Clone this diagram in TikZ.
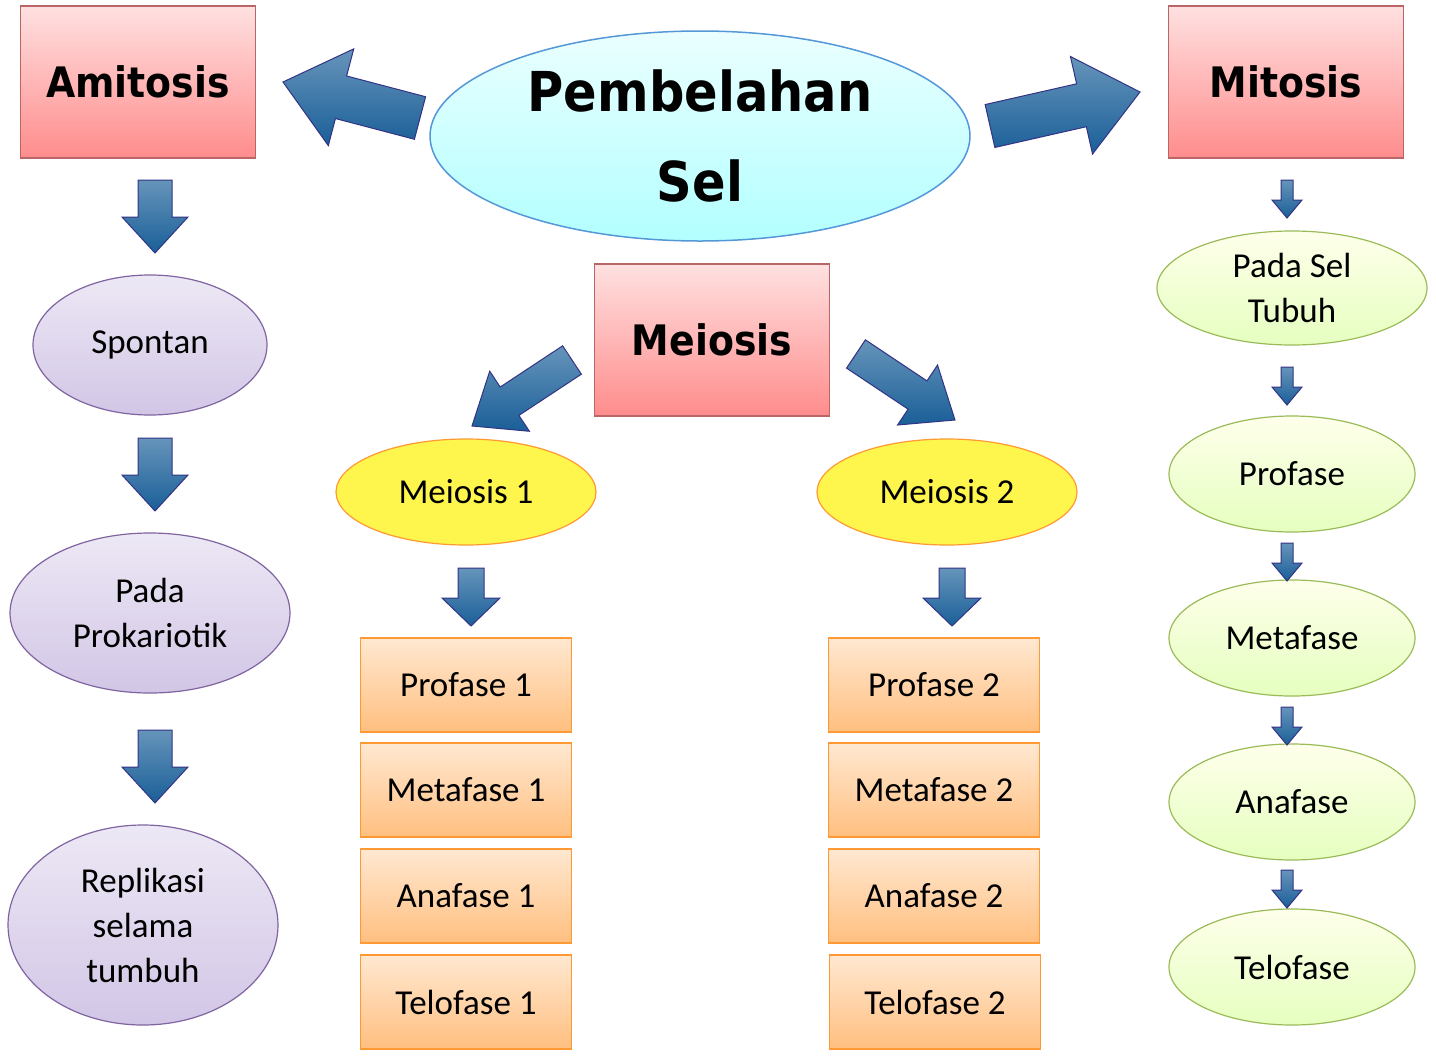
\documentclass[tikz,border=0pt]{standalone}
\usepackage{fontspec}
\setmainfont{Carlito}
\newfontfamily\headfont{DejaVu Sans Condensed}
\usetikzlibrary{calc,shapes.geometric}
\definecolor{lav}{HTML}{8064A2}
\definecolor{lavlt}{HTML}{EDE8F5}
\definecolor{lavdk}{HTML}{D2C6E6}
\definecolor{grb}{HTML}{9BBB59}
\tikzset{
 x=1pt,y=-1pt,
 pinkbox/.style={draw=red!55!black!60,line width=1.2pt,top color=red!12,bottom color=red!45!white,minimum width=235pt,minimum height=152pt,font=\headfont\bfseries\fontsize{42}{46}\selectfont},
 cyanell/.style={ellipse,draw=cyan!60!blue!70,line width=1.5pt,top color=cyan!8,bottom color=cyan!30,minimum width=540pt,minimum height=210pt,align=center,font=\headfont\bfseries\fontsize{55}{90}\selectfont},
 purpell/.style={ellipse,draw=lav,line width=1.2pt,top color=lavlt,bottom color=lavdk,align=center,font=\fontsize{35}{45}\selectfont},
 yelell/.style={ellipse,draw=orange!80,line width=1.2pt,fill=yellow!70!white,minimum width=260pt,minimum height=106pt,font=\fontsize{35}{36}\selectfont},
 orbox/.style={draw=orange!80,line width=1.2pt,top color=orange!18,bottom color=orange!50,minimum width=211pt,minimum height=94pt,font=\fontsize{35}{36}\selectfont},
 grell/.style={ellipse,draw=grb,line width=1.2pt,top color=green!4!yellow!8,bottom color=green!40!yellow!25,minimum width=246pt,minimum height=116pt,align=center,font=\fontsize{35}{45}\selectfont},
 blk/.style={draw=blue!40!black!80,line width=1pt,top color=blue!45!cyan!55!black!60,bottom color=blue!45!cyan!55!black!90}
}
\newcommand\barr[5]{%
 \coordinate (h) at ($(#2)!#5pt!(#1)$);
 \path[blk] ($(#1)!#3pt!90:(#2)$) -- ($(h)!#3pt!-90:(#1)$) -- ($(h)!#4pt!-90:(#1)$) -- (#2) -- ($(h)!#4pt!90:(#1)$) -- ($(h)!#3pt!90:(#1)$) -- ($(#1)!#3pt!-90:(#2)$) -- cycle;}
\begin{document}
\begin{tikzpicture}
\useasboundingbox (0,0) rectangle (1436,1061);
\fill[white] (0,0) rectangle (1436,1061);
\node[pinkbox] (amit) at (138,82) {Amitosis};
\node[pinkbox] (mit) at (1286,82) {Mitosis};
\node[pinkbox] (mei) at (712,340) {Meiosis};
\node[cyanell] (ps) at (700,136) {Pembelahan\\Sel};
% left column
\node[purpell,minimum width=234pt,minimum height=140pt] (sp) at (150,345) {Spontan};
\node[purpell,minimum width=280pt,minimum height=160pt] (pp) at (150,613) {Pada\\Prokariotik};
\node[purpell,minimum width=270pt,minimum height=200pt] (rp) at (143,925) {Replikasi\\selama\\tumbuh};
% meiosis
\node[yelell] (m1) at (466,492) {Meiosis 1};
\node[yelell] (m2) at (947,492) {Meiosis 2};
\node[orbox] (p1) at (466,685) {Profase 1};
\node[orbox] (t1a) at (466,790) {Metafase 1};
\node[orbox] (a1) at (466,896) {Anafase 1};
\node[orbox] (l1) at (466,1002) {Telofase 1};
\node[orbox] (p2) at (934,685) {Profase 2};
\node[orbox] (t2a) at (934,790) {Metafase 2};
\node[orbox] (a2) at (934,896) {Anafase 2};
\node[orbox] (l2) at (935,1002) {Telofase 2};
% mitosis
\node[grell,minimum width=270pt,minimum height=114pt] (st) at (1292,288) {Pada Sel\\Tubuh};
\node[grell] (pr) at (1292,474) {Profase};
\node[grell] (me) at (1292,638) {Metafase};
\node[grell] (an) at (1292,802) {Anafase};
\node[grell] (te) at (1292,967) {Telofase};
% arrows
\coordinate (a0) at (420,118); \coordinate (b0) at (283,82); \barr{a0}{b0}{22}{50}{60}
\coordinate (a0) at (990,126); \coordinate (b0) at (1140,92); \barr{a0}{b0}{22}{50}{60}
\coordinate (a0) at (572,360); \coordinate (b0) at (472,426); \barr{a0}{b0}{17}{36}{45}
\coordinate (a0) at (856,354); \coordinate (b0) at (955,420); \barr{a0}{b0}{17}{36}{45}
\foreach \y in {180,438,730}{\coordinate (a0) at (155,\y); \coordinate (b0) at (155,\y+73); \barr{a0}{b0}{17}{33}{36}}
\foreach \x in {471,952}{\coordinate (a0) at (\x,568); \coordinate (b0) at (\x,626); \barr{a0}{b0}{13}{29}{28}}
\foreach \y in {180,367,543,707,870}{\coordinate (a0) at (1287,\y); \coordinate (b0) at (1287,\y+38); \barr{a0}{b0}{6}{15}{18}}
\end{tikzpicture}
\end{document}
